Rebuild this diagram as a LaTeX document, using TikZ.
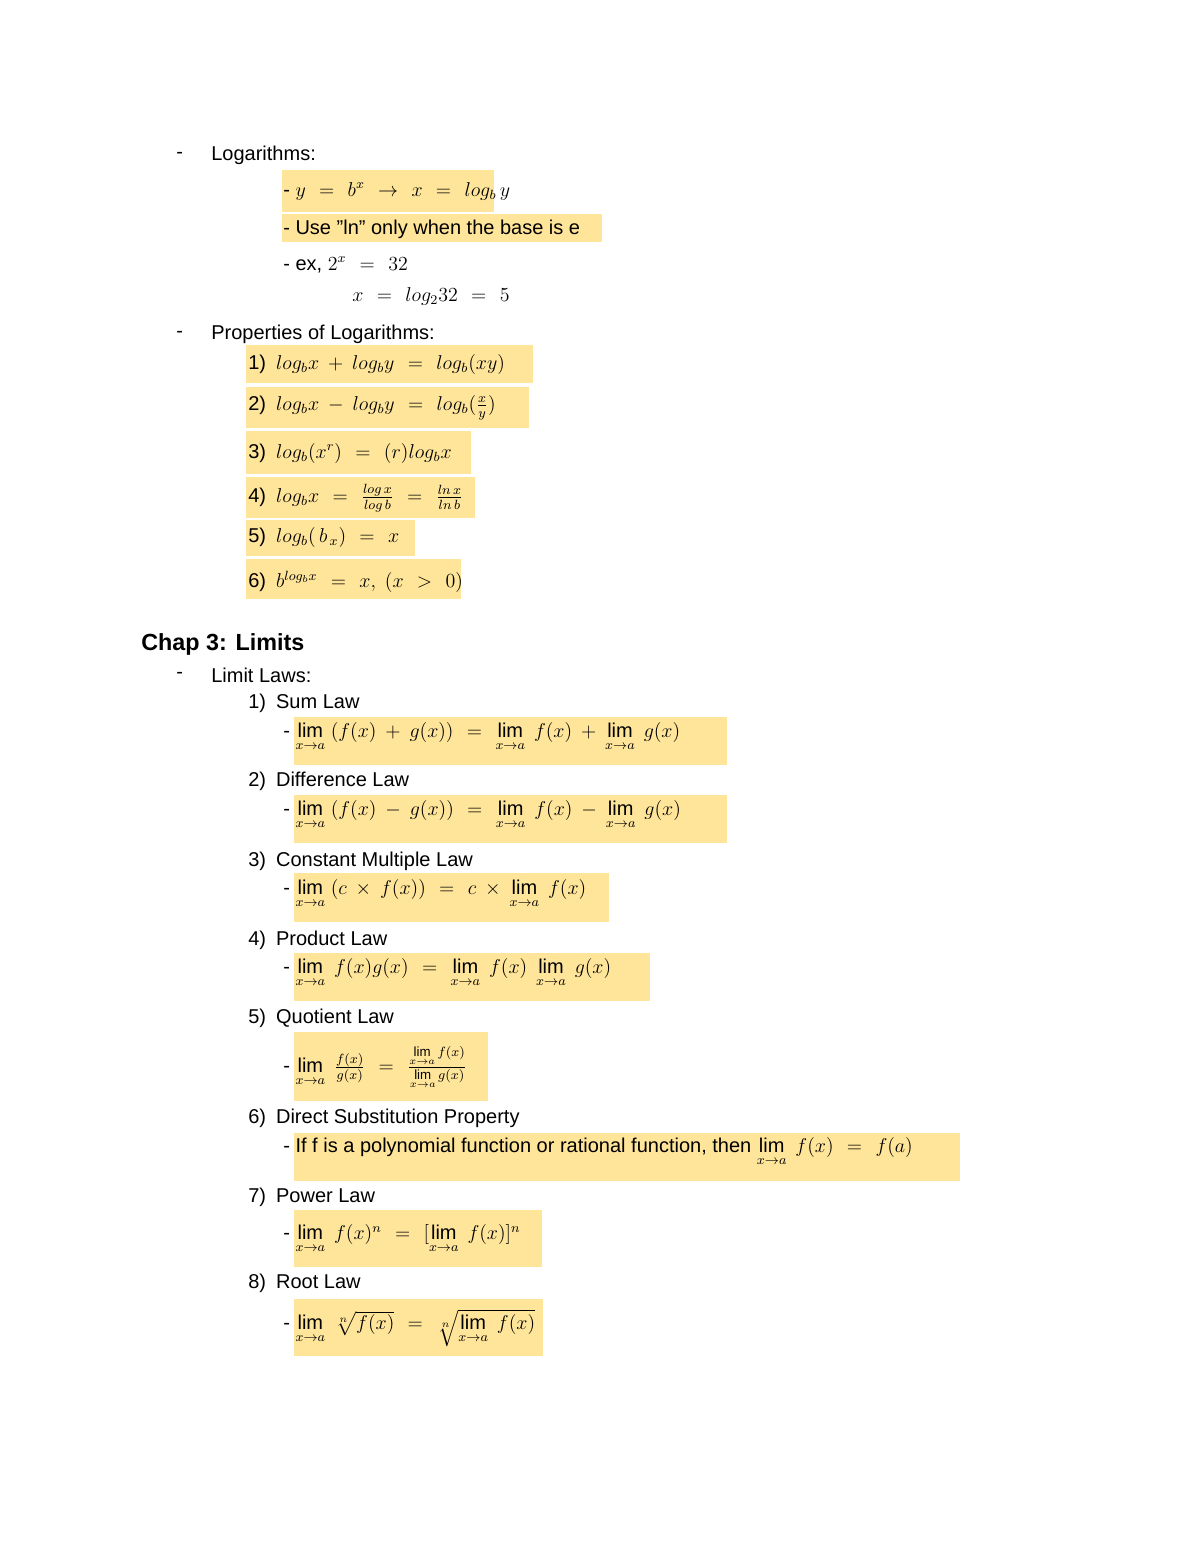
\documentclass[tikz,border=0pt]{standalone}
\usepackage{amsmath}
\usepackage{fontspec}
\setmainfont{Liberation Sans}
\definecolor{hl}{HTML}{FFE599}
\thickmuskip=12mu\relax
\medmuskip=8mu\relax
\begin{document}
\begin{tikzpicture}[x=0.6pt,y=-0.6pt,
  t/.style={anchor=west,inner sep=0pt,font=\fontsize{12}{14}\selectfont},
  hb/.style={fill=hl,draw=none}]
\useasboundingbox[fill=white] (0,0) rectangle (1200,1553);
% highlight boxes
\foreach \a/\b/\c/\d in {282/170/494/212, 282/214/602/242,
 246/345/533/383, 246/387/529/428, 246/431/471/474, 246/477/475/518, 246/520/415/556, 246/559/461/599,
 294/717/727/765, 294/795/727/843, 294/873/609/922, 294/953/650/1001, 294/1032/488/1101, 294/1133/960/1181, 294/1210/542/1267, 294/1299/543/1356}
 \fill[hl] (\a,\b) rectangle (\c,\d);
\node[t] (d1) at (176,155) {-};
\node[t] (l1) at (211,155) {Logarithms:};
\node[t] (a1) at (283,191) {- $y = b^x \rightarrow x = log_b\, y$};
\node[t] (a2) at (283,229) {- Use "ln" only when the base is e};
\node[t] (a3) at (283,265) {- ex, $2^x = 32$};
\node[t] (a4) at (352,296) {$x = log_2 32 = 5$};
\node[t] (d2) at (176,334) {-};
\node[t] (l2) at (211,334) {Properties of Logarithms:};
\node[t] (p1) at (248,364) {1)\enspace $log_b x + log_b y = log_b(xy)$};
\node[t] (p2) at (248,408) {2)\enspace $log_b x - log_b y = log_b(\frac{x}{y})$};
\node[t] (p3) at (248,453) {3)\enspace $log_b(x^r) = (r)log_b x$};
\node[t] (p4) at (248,498) {4)\enspace $log_b x = \frac{log\,x}{log\,b} = \frac{ln\,x}{ln\,b}$};
\node[t] (p5) at (248,537) {5)\enspace $log_b(\,b_{\,x}) = x$};
\node[t] (p6) at (248,582) {6)\enspace $b^{log_b x} = x,\ (x>0)$};
\node[t,font=\fontsize{14}{16}\selectfont\bfseries] (ch) at (141,644) {Chap 3: Limits};
\node[t] (d3) at (176,675) {-};
\node[t] (l3) at (211,675) {Limit Laws:};
\node[t] (s1) at (248,703) {1)\enspace Sum Law};
\node[t] (e1) at (283,737) {- $\lim\limits_{x\to a}\ (f(x)+g(x)) = \lim\limits_{x\to a}\ f(x) + \lim\limits_{x\to a}\ g(x)$};
\node[t] (s2) at (248,781) {2)\enspace Difference Law};
\node[t] (e2) at (283,815) {- $\lim\limits_{x\to a}\ (f(x)-g(x)) = \lim\limits_{x\to a}\ f(x) - \lim\limits_{x\to a}\ g(x)$};
\node[t] (s3) at (248,861) {3)\enspace Constant Multiple Law};
\node[t] (e3) at (283,894) {- $\lim\limits_{x\to a}\ (c\times f(x)) = c\times \lim\limits_{x\to a}\ f(x)$};
\node[t] (s4) at (248,940) {4)\enspace Product Law};
\node[t] (e4) at (283,973) {- $\lim\limits_{x\to a}\ f(x)g(x) = \lim\limits_{x\to a}\ f(x)\ \lim\limits_{x\to a}\ g(x)$};
\node[t] (s5) at (248,1018) {5)\enspace Quotient Law};
\node[t] (e5) at (283,1068) {- $\lim\limits_{x\to a}\ \frac{f(x)}{g(x)} = \frac{\lim\limits_{x\to a} f(x)}{\lim\limits_{x\to a} g(x)}$};
\node[t] (s6) at (248,1118) {6)\enspace Direct Substitution Property};
\node[t] (e6) at (283,1152) {- If f is a polynomial function or rational function, then $\lim\limits_{x\to a}\ f(x) = f(a)$};
\node[t] (s7) at (248,1197) {7)\enspace Power Law};
\node[t] (e7) at (283,1239) {- $\lim\limits_{x\to a}\ f(x)^n = [\lim\limits_{x\to a}\ f(x)]^n$};
\node[t] (s8) at (248,1283) {8)\enspace Root Law};
\node[t] (e8) at (283,1328) {- $\lim\limits_{x\to a}\ \sqrt[n]{f(x)} = \sqrt[n]{\lim\limits_{x\to a}\ f(x)}$};
\end{tikzpicture}
\end{document}
